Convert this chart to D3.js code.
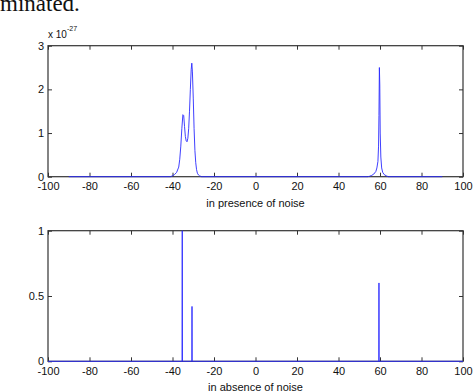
<!DOCTYPE html>
<html>
<head>
<meta charset="utf-8">
<script src="https://cdn.jsdelivr.net/npm/d3@7"></script>
<style>
	body{ margin:0; background:#fff; }
	svg{ display:block; }
	.tick text{ font-family:"Liberation Sans", Arial, sans-serif; font-size:11px; fill:#111; }
</style>
</head>
<body>
<svg id="chart" width="474" height="391"></svg>
<script>
// angle (deg) vs pseudo-spectrum
var noisyAngles = [-90, -41, -40, -39, -38, -37, -36.5, -36, -35.5, -35, -34.6, -34.2, -33.8, -33.4, -33, -32.6, -32.2, -31.8, -31.4, -31, -30.7, -30.4, -30, -29.6, -29.2, -28.8, -28.4, -28, -27.5, -27, -26,
	54, 55, 56, 57, 58, 58.5, 59, 59.3, 59.5, 59.7, 59.9, 60.1, 60.4, 60.8, 61.3, 62, 63, 64, 90];
var noisyPower = [0, 0, 0.02, 0.05, 0.1, 0.22, 0.4, 0.7, 1.1, 1.42, 1.4, 1.15, 0.92, 0.82, 0.8, 0.88, 1.1, 1.5, 2.0, 2.45, 2.6, 2.4, 1.8, 1.1, 0.6, 0.32, 0.16, 0.08, 0.04, 0.02, 0,
	0, 0.01, 0.03, 0.06, 0.12, 0.2, 0.35, 0.7, 1.4, 2.5, 2.1, 1.0, 0.45, 0.2, 0.1, 0.05, 0.02, 0, 0];

var cleanAngles = [-100, -35.4, -35.3, -35.2, -30.7, -30.6, -30.5, 59.4, 59.5, 59.6, 100];
var cleanPower = [0, 0, 1, 0, 0, 0.42, 0, 0, 0.6, 0, 0];

var xTicks = [-100, -80, -60, -40, -20, 0, 20, 40, 60, 80, 100];
var topYTicks = [0, 1, 2, 3];
var bottomYTicks = [0, 0.5, 1];

var svg = d3.select("#chart");
var left = 48, right = 463;

// bit of the paper text above the figure
svg.append("text")
	.attr("x", 0).attr("y", 11)
	.attr("font-family", "Liberation Serif, Times New Roman, serif")
	.attr("font-size", 23)
	.attr("fill", "#111")
	.text("minated.");

function plain(d){ return String(d); }

function drawPanel(top, bottom, yMax, yTicks, angles, values, xlabel){
	var x = d3.scaleLinear().domain([-100, 100]).range([left, right]);
	var y = d3.scaleLinear().domain([0, yMax]).range([bottom, top]);
	var g = svg.append("g");

	g.append("g")
		.attr("transform", "translate(0," + bottom + ")")
		.call(d3.axisBottom(x).tickValues(xTicks).tickSizeInner(-4).tickSizeOuter(0).tickPadding(6).tickFormat(plain));
	g.append("g")
		.attr("transform", "translate(0," + top + ")")
		.call(d3.axisTop(x).tickValues(xTicks).tickSizeInner(-4).tickSizeOuter(0).tickFormat(""));
	g.append("g")
		.attr("transform", "translate(" + left + ",0)")
		.call(d3.axisLeft(y).tickValues(yTicks).tickSizeInner(-4).tickSizeOuter(0).tickPadding(4).tickFormat(plain));
	g.append("g")
		.attr("transform", "translate(" + right + ",0)")
		.call(d3.axisRight(y).tickValues(yTicks).tickSizeInner(-4).tickSizeOuter(0).tickFormat(""));
	g.selectAll(".domain").remove();
	g.selectAll(".tick line").attr("stroke", "#333");

	g.append("rect")
		.attr("x", left).attr("y", top)
		.attr("width", right - left).attr("height", bottom - top)
		.attr("fill", "none").attr("stroke", "#333").attr("stroke-width", 1.2);

	var pts = angles.map(function(a, i){ return [a, values[i]]; });
	g.append("path")
		.datum(pts)
		.attr("fill", "none")
		.attr("stroke", "#2a2aff")
		.attr("stroke-width", 0.9)
		.attr("d", d3.line().x(function(d){ return x(d[0]); }).y(function(d){ return y(d[1]); }));

	g.append("text")
		.attr("x", (left + right) / 2).attr("y", bottom + 30)
		.attr("text-anchor", "middle")
		.attr("font-family", "Liberation Sans, Arial, sans-serif")
		.attr("font-size", 11)
		.attr("fill", "#111")
		.text(xlabel);
}

drawPanel(45.7, 176.7, 3, topYTicks, noisyAngles, noisyPower, "in presence of noise");
drawPanel(230.7, 361.3, 1, bottomYTicks, cleanAngles, cleanPower, "in absence of noise");

// exponent label of the top axis
var expo = svg.append("text")
	.attr("x", 48).attr("y", 38)
	.attr("font-family", "Liberation Sans, Arial, sans-serif")
	.attr("font-size", 10)
	.attr("fill", "#111");
expo.append("tspan").text("x 10");
expo.append("tspan").attr("font-size", 7).attr("dy", -7).text("-27");
</script>
</body>
</html>
